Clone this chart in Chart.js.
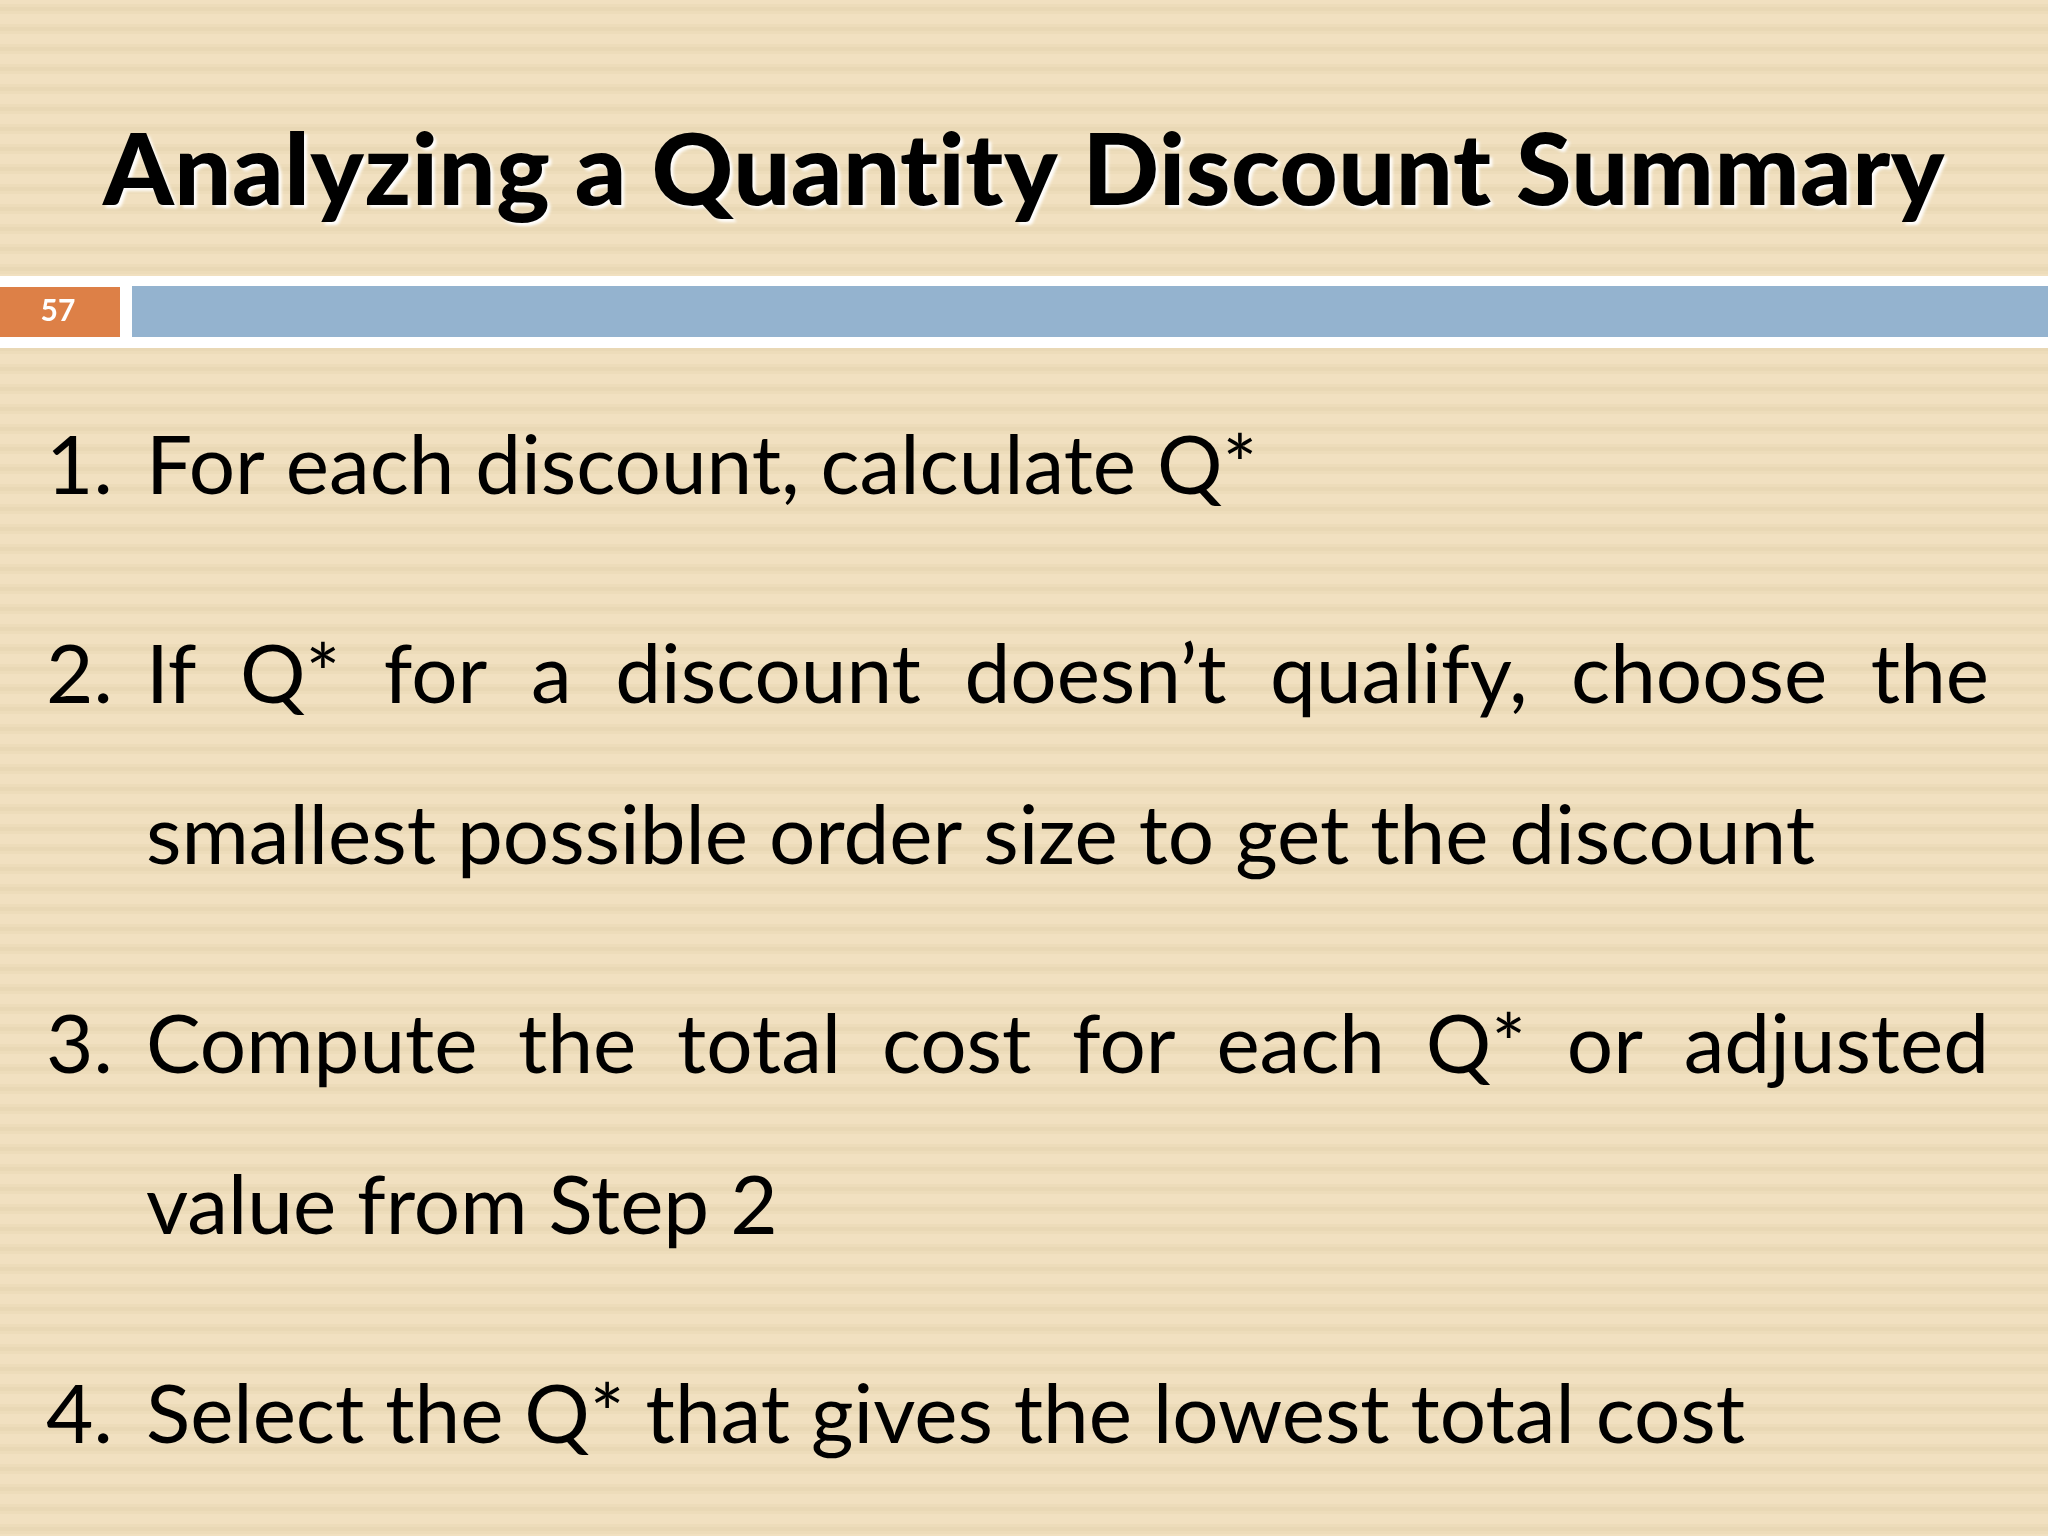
<!DOCTYPE html>
<html>
<head>
<meta charset="utf-8">
<title>Analyzing a Quantity Discount Summary</title>
<script src="https://cdn.jsdelivr.net/npm/chart.js@4"></script>
<style>
  html, body { margin: 0; padding: 0; background: #f0dfbf; }
  #wrap { width: 2048px; height: 1536px; position: relative; }
</style>
</head>
<body>
<div id="wrap"><canvas id="myChart"></canvas></div>
<script>
// Slide content
var slideTitle = 'Analyzing a Quantity Discount Summary';
var slideNumber = '57';
var itemNumbers = ['1.', '2.', '3.', '4.'];
var itemLines = [
    ['For each discount, calculate Q*'],
    ['If Q* for a discount doesn\u2019t qualify, choose the', 'smallest possible order size to get the discount'],
    ['Compute the total cost for each Q* or adjusted', 'value from Step 2'],
    ['Select the Q* that gives the lowest total cost']
];

// Layout
var W = 2048, H = 1536;
var bodyFont = '82px Lato';
var titleFont = '900 100px Lato';
var firstBaseline = 494, itemGap = 209, lineGap = 161;
var numX = 46, textX = 146, rightX = 1989;

function drawStripes(ctx) {
    ctx.fillStyle = '#f1e0c0';
    ctx.fillRect(0, 0, W, H);
    for (var y = 4; y < H; y += 20) {
        ctx.fillStyle = 'rgba(210, 184, 138, 0.10)';
        ctx.fillRect(0, y, W, 10);
        ctx.fillStyle = 'rgba(210, 184, 138, 0.10)';
        ctx.fillRect(0, y + 3, W, 4);
    }
}

function drawHeader(ctx) {
    ctx.fillStyle = '#ffffff';
    ctx.fillRect(0, 276, W, 72);
    ctx.fillStyle = '#dd8047';
    ctx.fillRect(0, 287, 120, 50);
    ctx.fillStyle = '#94b3cf';
    ctx.fillRect(132, 286, W - 132, 51);
    ctx.fillStyle = '#ffffff';
    ctx.font = 'bold 30px Lato';
    ctx.textAlign = 'center';
    ctx.textBaseline = 'alphabetic';
    ctx.fillText(slideNumber, 58, 321);

    // title with white shadow
    ctx.save();
    ctx.font = titleFont;
    ctx.letterSpacing = '0.5px';
    var tw = ctx.measureText(slideTitle).width;
    var sx = 1842 / tw;
    ctx.translate(W / 2, 205);
    ctx.scale(sx, 1);
    ctx.textAlign = 'center';
    ctx.shadowColor = 'rgba(255,255,255,0.95)';
    ctx.shadowOffsetX = 3;
    ctx.shadowOffsetY = 3;
    ctx.shadowBlur = 3;
    ctx.fillStyle = '#000000';
    ctx.fillText(slideTitle, 0, 0);
    ctx.restore();
}

function drawItems(ctx) {
    ctx.save();
    ctx.font = bodyFont;
    ctx.fillStyle = '#000000';
    ctx.textAlign = 'left';
    ctx.textBaseline = 'alphabetic';
    // horizontal squeeze so Lato matches the narrower original face
    var sx = 1669 / ctx.measureText(itemLines[1][1]).width;
    var y = firstBaseline;
    for (var i = 0; i < itemLines.length; i++) {
        if (i > 0) y += itemGap;
        drawScaled(ctx, itemNumbers[i], numX, y, sx);
        for (var j = 0; j < itemLines[i].length; j++) {
            if (j > 0) y += lineGap;
            var line = itemLines[i][j];
            var justify = j < itemLines[i].length - 1;
            if (justify) {
                var words = line.split(' ');
                var total = 0;
                words.forEach(function (w) { total += ctx.measureText(w).width * sx; });
                var gap = (rightX - textX - total) / (words.length - 1);
                var x = textX;
                words.forEach(function (w) {
                    drawScaled(ctx, w, x, y, sx);
                    x += ctx.measureText(w).width * sx + gap;
                });
            } else {
                drawScaled(ctx, line, textX, y, sx);
            }
        }
    }
    ctx.restore();
}

function drawScaled(ctx, txt, x, y, sx) {
    ctx.save();
    ctx.translate(x, y);
    ctx.scale(sx, 1);
    ctx.fillText(txt, 0, 0);
    ctx.restore();
}

var slidePlugin = {
    id: 'slide',
    beforeDraw: function (chart) {
        var ctx = chart.ctx;
        drawStripes(ctx);
        drawHeader(ctx);
        drawItems(ctx);
    }
};

var ctx = document.getElementById('myChart').getContext('2d');
var myChart = new Chart(ctx, {
    type: 'bar',
    data: { labels: [], datasets: [] },
    options: {
        responsive: true,
        maintainAspectRatio: false,
        animation: false,
        events: [],
        plugins: {
            legend: { display: false },
            tooltip: { enabled: false },
            title: { display: false }
        },
        scales: {
            x: { display: false },
            y: { display: false }
        }
    },
    plugins: [slidePlugin]
});
</script>
</body>
</html>
